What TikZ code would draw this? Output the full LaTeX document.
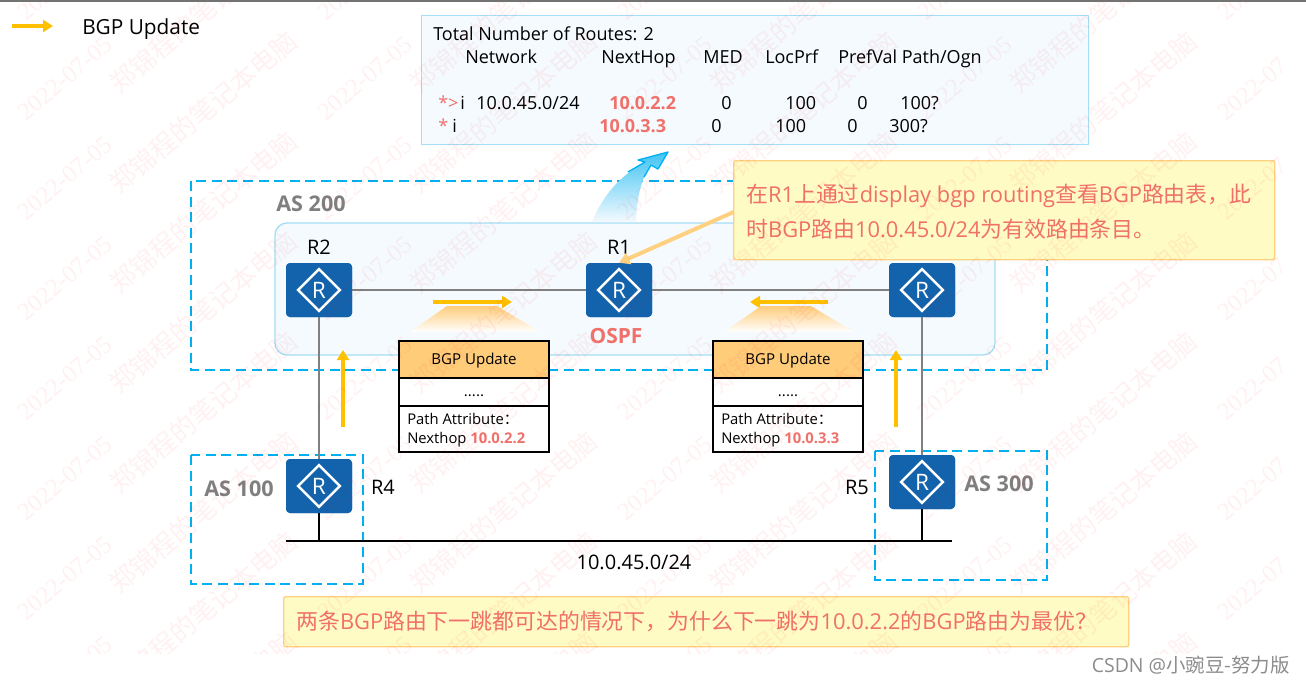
\documentclass[tikz,border=0pt]{standalone}
\usepackage{fontspec}
\setmainfont{Open Sans}
\newfontfamily\cjkf{Noto Sans CJK SC}
\newfontfamily\wmlat{Liberation Serif}
\newcommand{\cn}[1]{{\cjkf #1}}
\usetikzlibrary{shapes.geometric,arrows.meta,shadings}
\definecolor{dashc}{HTML}{00B0F0}
\definecolor{panelf}{HTML}{F4FAFE}
\definecolor{paneld}{HTML}{A4DDF5}
\definecolor{rblue}{HTML}{1262AC}
\definecolor{linkg}{HTML}{808080}
\definecolor{gold}{HTML}{FFC000}
\definecolor{hdr}{HTML}{FFCC7A}
\definecolor{redt}{HTML}{F0706A}
\definecolor{notef}{HTML}{FFFBC4}
\definecolor{noted}{HTML}{FFD080}
\definecolor{grayt}{HTML}{7F7F7F}
\tikzset{
  txt/.style={inner sep=0pt,text height=.75em,text depth=.2em,anchor=west},
  ctxt/.style={inner sep=0pt,text height=.75em,text depth=.2em,anchor=center},
  t18/.style={txt,yshift=-2.2pt,font=\fontsize{13.5}{14}\selectfont},
  red18/.style={t18,text=redt},
  redb18/.style={t18,text=redt,font=\fontsize{13.5}{14}\bfseries\selectfont},
  t20/.style={ctxt,yshift=-3pt,font=\fontsize{15}{16}\selectfont},
  asl/.style={txt,yshift=-2.8pt,text=grayt,font=\fontsize{16.2}{17}\bfseries\selectfont},
  t14/.style={txt,yshift=-1pt,font=\fontsize{11.1}{12}\selectfont},
  c14/.style={ctxt,yshift=-.8pt,font=\fontsize{11.3}{12}\selectfont},
  dashb/.style={draw=dashc,line width=1.5pt,dash pattern=on 7.5pt off 4.2pt},
  panel/.style={draw=paneld,fill=panelf,line width=1pt},
  router/.style={draw=none,fill=rblue,rounded corners=3pt,minimum width=49.5pt,minimum height=40.5pt,inner sep=0pt,text=white,font=\fontsize{17}{18}\selectfont},
  rdia/.style={diamond,draw=white,line width=1.8pt,minimum width=32pt,minimum height=32pt,inner sep=0pt,aspect=1},
  link/.style={draw=linkg,line width=1.5pt},
  blk/.style={draw=black,line width=1.5pt},
  upd/.style={draw=gold,line width=2.4pt,-{Triangle[length=7.5pt,width=9pt]}},
  note/.style={draw=noted,fill=notef,line width=1pt,rounded corners=1.5pt},
  notet/.style={txt,yshift=-2.4pt,text=redt,font=\fontsize{16.4}{17}\selectfont},
  hbox/.style={draw=black,line width=1.5pt,minimum width=112.5pt,inner sep=0pt},
  wm/.style={inner sep=0pt,rotate=40,text=red,opacity=0.055},
}
\newcommand{\router}[3]{%
  \node[router] (#1) at (#2,#3) {R};
  \node[rdia] (#1d) at (#1) {};
}
\newcommand{\updbox}[3]{%
  \shade[top color=hdr,bottom color=white]
     (#2+49,306) -- (#2+99,306) -- (#2+142,332) -- (#2+12,332) -- cycle;
  \node[hbox,fill=hdr,minimum height=27.75pt,anchor=north west] (#1a) at (#2,340) {};
  \node[hbox,fill=white,minimum height=21pt,anchor=north west] (#1b) at (#2,377) {};
  \node[hbox,fill=white,minimum height=34.5pt,anchor=north west] (#1c) at (#2,405) {};
  \node[c14] (#1at) at (#1a) {BGP Update};
  \node[c14] (#1bt) at (#1b) {.....};
  \node[t14] (#1ct) at (#2+9,419.5) {Path Attribute\cn{：}};
  \node[t14] (#1dt) at (#2+9,438.5) {Nexthop \textcolor{redt}{\textbf{#3}}};
}
\begin{document}
\begin{tikzpicture}[x=0.75pt,y=-0.75pt]
\useasboundingbox (0,0) rectangle (1306,683);
\fill[white] (0,0) rectangle (1306,683);
\fill[linkg!90!black] (0,0) rectangle (1306,1.5);

% legend
\coordinate (legA) at (12,26);
\coordinate (legB) at (53,26);
\draw[upd] (legA) -- (legB);
\node[txt,yshift=-3pt,font=\fontsize{15.6}{16}\selectfont] (legT) at (82,27) {BGP Update};

% routing table
\node[panel,anchor=north west,minimum width=500pt,minimum height=96.5pt,inner sep=0pt] (tbl) at (421,15) {};
\node[t18] (t1) at (433,34) {Total Number of Routes: 2};
\node[t18] (h1) at (465,57) {Network};
\node[t18] (h2) at (601,57) {NextHop};
\node[t18] (h3) at (703,57) {MED};
\node[t18] (h4) at (765,57) {LocPrf};
\node[t18] (h5) at (838,57) {PrefVal Path/Ogn};
\node[red18] (r1a) at (438,103) {*>};
\node[t18] (r1b) at (460,103) {i};
\node[t18] (r1c) at (476,103) {10.0.45.0/24};
\node[redb18] (r1d) at (609,103) {10.0.2.2};
\node[t18] (r1e) at (721,103) {0};
\node[t18] (r1f) at (785,103) {100};
\node[t18] (r1g) at (857,103) {0};
\node[t18] (r1h) at (900,103) {100?};
\node[red18] (r2a) at (438,126) {*};
\node[t18] (r2b) at (452,126) {i};
\node[redb18] (r2d) at (599,126) {10.0.3.3};
\node[t18] (r2e) at (711,126) {0};
\node[t18] (r2f) at (775,126) {100};
\node[t18] (r2g) at (847,126) {0};
\node[t18] (r2h) at (889,126) {300?};

% AS boxes
\draw[dashb] (191,181) rectangle (1047,370);
\draw[dashb] (191,455) rectangle (363,584);
\draw[dashb] (875,451) rectangle (1047,580);
\draw[panel,rounded corners=9pt] (275,223) rectangle (995,355);

% curved arrow
\shade[top color=dashc!75,bottom color=panelf]
  (592,222) .. controls (603,195) and (620,176) .. (645,162)
  -- (638,160) -- (668,152) -- (658,169) -- (651,165)
  .. controls (640,180) and (637,200) .. (636,222) -- cycle;
\draw[dashc,line width=1pt,line join=round] (628,172) -- (645,162) -- (638,160) -- (668,152) -- (658,169) -- (651,165) -- (644,177);

\node[asl] (as200) at (276,204.5) {AS 200};
\node[asl] (as100) at (204,489) {AS 100};
\node[asl] (as300) at (964,484) {AS 300};

% routers
\router{R2}{319}{290}
\router{R1}{619}{290}
\router{R3}{922}{290}
\router{R4}{319}{486}
\router{R5}{922}{482}
\node[t20] (lR2) at (319,247) {R2};
\node[t20] (lR1) at (619,247) {R1};
\node[t20] (lR4) at (383,487) {R4};
\node[t20] (lR5) at (857,487) {R5};

% links
\draw[link] (R2) -- (R1);
\draw[link] (R1) -- (R3);
\draw[link] (R2) -- (R4);
\draw[link] (R3) -- (R5);
\coordinate (busL) at (286,541);
\coordinate (busR) at (952,541);
\draw[blk] (busL) -- (busR);
\draw[blk] (R4.south) -- (R4.south |- busL);
\draw[blk] (R5.south) -- (R5.south |- busR);
\node[router] at (R2) {R}; \node[rdia] at (R2) {};
\node[router] at (R1) {R}; \node[rdia] at (R1) {};
\node[router] at (R3) {R}; \node[rdia] at (R3) {};
\node[router] at (R4) {R}; \node[rdia] at (R4) {};
\node[router] at (R5) {R}; \node[rdia] at (R5) {};
\node[t20] (net) at (634,562) {10.0.45.0/24};

% update arrows
\coordinate (a1) at (433,302); \coordinate (a2) at (512,302);
\coordinate (b1) at (828,302); \coordinate (b2) at (750,302);
\coordinate (c1) at (343,427); \coordinate (c2) at (343,350);
\coordinate (d1) at (896,427); \coordinate (d2) at (896,350);
\draw[upd] (a1) -- (a2);
\draw[upd] (b1) -- (b2);
\draw[upd] (c1) -- (c2);
\draw[upd] (d1) -- (d2);

\updbox{u}{398}{10.0.2.2}
\updbox{v}{712}{10.0.3.3}

\node[ctxt,yshift=-3pt,text=redt,font=\fontsize{15.7}{16}\bfseries\selectfont] (ospf) at (616,336) {OSPF};

% notes
\draw[noted,line width=3pt,-{Triangle[length=8pt,width=9pt]}] (736,211) -- (R1.north);
\node[note,anchor=north west,minimum width=405.75pt,minimum height=74.25pt,inner sep=0pt] (n1) at (733,160) {};
\node[notet] (n1a) at (746,196) {\cn{在}R1\cn{上通过}display bgp routing\cn{查看}BGP\cn{路由表，此}};
\node[notet] (n1b) at (746,231) {\cn{时}BGP\cn{路由}10.0.45.0/24\cn{为有效路由条目。}};
\node[note,anchor=north west,minimum width=633.75pt,minimum height=37.5pt,inner sep=0pt] (n2) at (283,596) {};
\node[notet] (n2a) at (296,623) {\cn{两条}BGP\cn{路由下一跳都可达的情况下，为什么下一跳为}10.0.2.2\cn{的}BGP\cn{路由为最优？}};

% watermark
\begin{scope}
\clip (0,2) rectangle (1283,653);
\foreach \i in {0,...,4}{
  \foreach \j in {-1,...,6}{
    \node[wm,font=\wmlat\fontsize{18.5}{19}\selectfont] (wa\i\j) at (65+300*\i,78+100*\j) {2022-07-05};
    \node[wm,font=\cjkf\fontsize{19.5}{20}\selectfont] (wb\i\j) at (203+300*\i,112+100*\j) {郑锦程的笔记本电脑};
  }
}
\end{scope}

\node[inner sep=0pt,anchor=east,text=gray,opacity=.9,font=\fontsize{14.6}{15}\selectfont] (csdn) at (1290,665) {CSDN @\cn{小豌豆-努力版}};
\end{tikzpicture}
\end{document}
